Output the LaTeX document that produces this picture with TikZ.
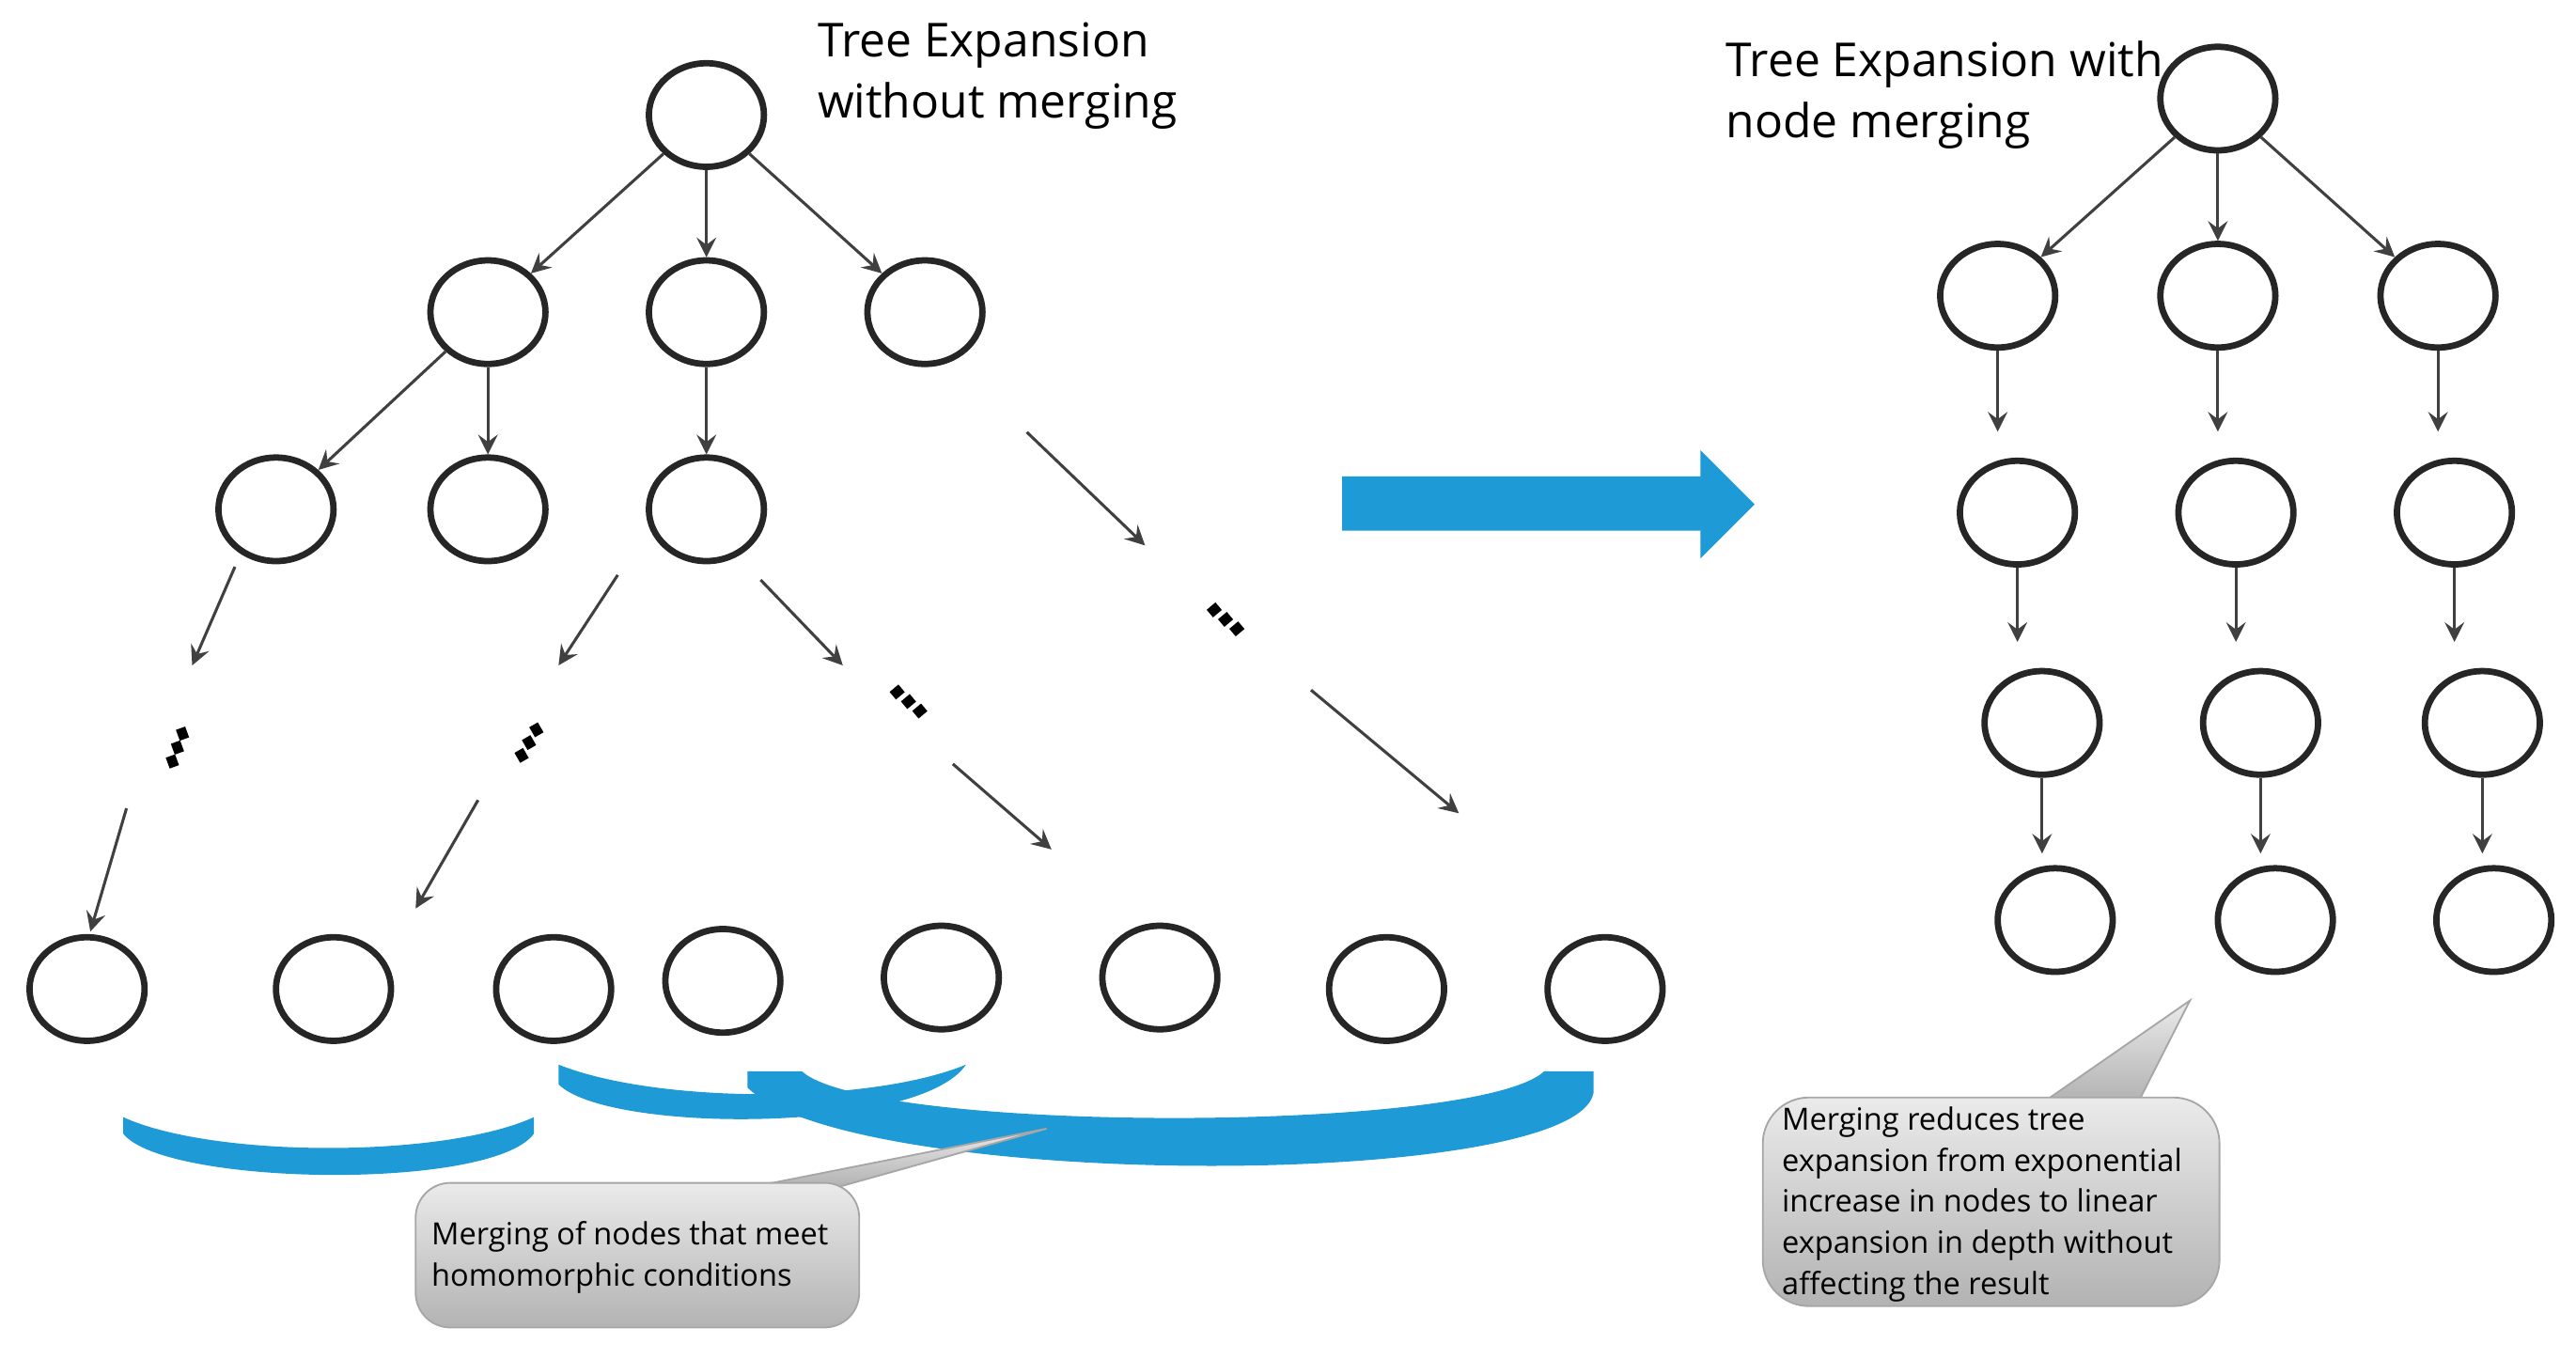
\documentclass[tikz,border=0pt]{standalone}
\usepackage{fontspec}
\setmainfont{Open Sans}
\usetikzlibrary{shapes.geometric, arrows, calc}
\tikzstyle{arrow} = [line width=0.5pt, black!75, ->, >=stealth]
\tikzstyle{tn} = [ellipse, draw=black!85, line width=1.1pt, minimum width=0.70cm, minimum height=0.63cm, inner sep=0pt]
\tikzstyle{lbl} = [font=\fontsize{8.1}{10.6}\selectfont, align=left, anchor=north west, inner sep=0pt]
\tikzstyle{note} = [font=\fontsize{5.3}{7.1}\selectfont, align=left, anchor=north west, inner sep=0pt]
\tikzstyle{callout} = [draw=black!35, line width=0.3pt, top color=black!8, bottom color=black!30]
\definecolor{mblue}{HTML}{1E9AD6}
\newcommand{\vdotsat}[3]{\foreach \k in {-1,0,1} {\fill [rotate around={#3:($(#1,#2)+(#3:\k*9)$)}] ($(#1,#2)+(#3:\k*9)$) ++(-3.5,-3) rectangle ++(7,6);}}
\begin{document}
\begin{tikzpicture}[x=0.01cm, y=-0.01cm]
		\useasboundingbox (0,0) rectangle (1568,827);
		% left tree
		\node (r) [tn] at (430,70) {};
		\node (a1) [tn] at (297,190) {};
		\node (a2) [tn] at (430,190) {};
		\node (a3) [tn] at (563,190) {};
		\node (b1) [tn] at (168,310) {};
		\node (b2) [tn] at (297,310) {};
		\node (b3) [tn] at (430,310) {};
		\node (c1) [tn] at (53,602) {};
		\node (c2) [tn] at (203,602) {};
		\node (c3) [tn] at (337,602) {};
		\node (c4) [tn] at (440,597) {};
		\node (c5) [tn] at (573,595) {};
		\node (c6) [tn] at (706,595) {};
		\node (c7) [tn] at (844,602) {};
		\node (c8) [tn] at (977,602) {};
		\draw [arrow] (r) -- (a1);
		\draw [arrow] (r) -- (a2);
		\draw [arrow] (r) -- (a3);
		\draw [arrow] (a1) -- (b1);
		\draw [arrow] (a1) -- (b2);
		\draw [arrow] (a2) -- (b3);
		\node (t1) [lbl] at (497,13) {Tree Expansion\\without merging};
		% open branches
		\coordinate (p1) at (143,345); \coordinate (q1) at (117,405);
		\coordinate (p2) at (77,492); \coordinate (q2) at (55,567);
		\coordinate (p3) at (376,350); \coordinate (q3) at (340,405);
		\coordinate (p4) at (291,487); \coordinate (q4) at (253,553);
		\coordinate (p5) at (463,353); \coordinate (q5) at (513,405);
		\coordinate (p6) at (580,465); \coordinate (q6) at (640,517);
		\coordinate (p7) at (625,263); \coordinate (q7) at (697,332);
		\coordinate (p8) at (798,420); \coordinate (q8) at (888,495);
		\foreach \i in {1,...,8} \draw [arrow] (p\i) -- (q\i);
		\vdotsat{108}{455}{-70}
		\vdotsat{322}{452}{-60}
		\vdotsat{553}{427}{40}
		\vdotsat{746}{377}{40}
		% merge brackets
		\fill [mblue] (75,680) .. controls (130,705) and (270,705) .. (325,680) -- (325,690)
			.. controls (300,725) and (100,722) .. (75,690) -- cycle;
		\fill [mblue] (340,648) .. controls (400,672) and (530,672) .. (588,648)
			.. controls (560,690) and (370,690) .. (340,660) -- cycle;
		\fill [mblue] (455,652) -- (488,652) .. controls (530,690) and (900,690) .. (940,652) -- (970,652) -- (970,665)
			.. controls (960,725) and (520,725) .. (455,662) -- cycle;
		% left callout
		\fill [callout] (460,722) -- (637,687) -- (512,722) -- cycle;
		\draw [callout, rounded corners=6] (253,720) rectangle (523,808);
		\node (n1) [note] at (262,743) {Merging of nodes that meet\\homomorphic conditions};
		% big arrow
		\fill [mblue] (817,290) -- (1035,290) -- (1035,274) -- (1068,307) -- (1035,340) -- (1035,323) -- (817,323) -- cycle;
		% right tree
		\node (R) [tn] at (1350,60) {};
		\node (t2) [lbl] at (1050,24) {Tree Expansion with\\node merging};
		\foreach \col/\xa/\xb/\xc/\xd in {1/1216/1228/1243/1251, 2/1350/1361/1376/1385, 3/1484/1494/1511/1518} {
			\node (m\col1) [tn] at (\xa,180) {};
			\node (m\col2) [tn] at (\xb,312) {};
			\node (m\col3) [tn] at (\xc,440) {};
			\node (m\col4) [tn] at (\xd,560) {};
			\draw [arrow] (R) -- (m\col1);
			\draw [arrow, shorten >=4.5pt] (m\col1.south) -- (m\col1.south |- m\col2.north);
			\draw [arrow, shorten >=4.5pt] (m\col2.south) -- (m\col2.south |- m\col3.north);
			\draw [arrow, shorten >=2pt] (m\col3.south) -- (m\col3.south |- m\col4.north);
		}
		% right callout
		\fill [callout] (1245,670) -- (1333,609) -- (1302,670) -- cycle;
		\draw [callout, rounded corners=8] (1073,668) rectangle (1351,795);
		\node (n2) [note] at (1084,673) {Merging reduces tree\\expansion from exponential\\increase in nodes to linear\\expansion in depth without\\affecting the result};
\end{tikzpicture}
\end{document}
